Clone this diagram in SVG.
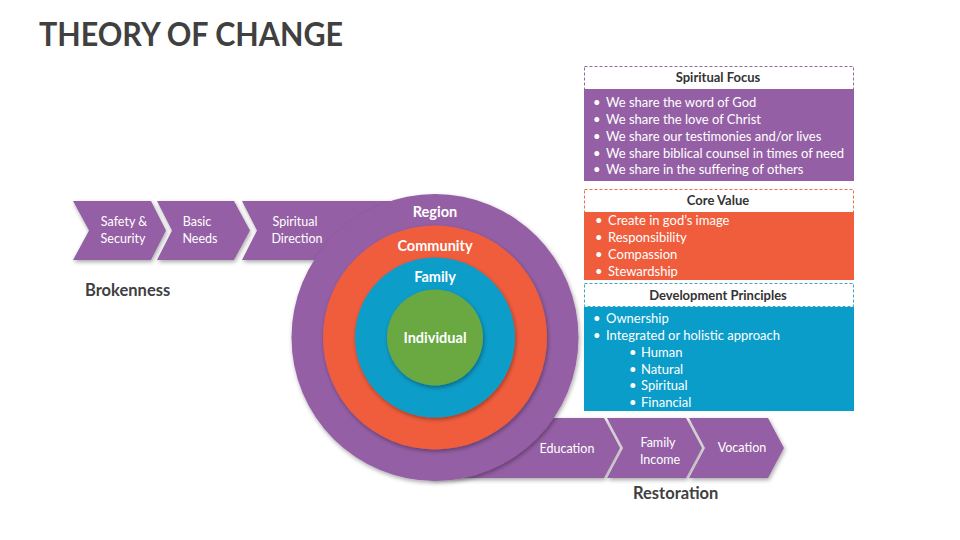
<svg xmlns="http://www.w3.org/2000/svg" width="960" height="540" viewBox="0 0 960 540">
<defs>
<filter id="sh" x="-20%" y="-20%" width="140%" height="140%">
<feDropShadow dx="1" dy="2" stdDeviation="2" flood-color="#000" flood-opacity="0.35"/>
</filter>
<style>
.t{font-family:Lato,"Open Sans","Liberation Sans",sans-serif;}
.title{font-size:32px;font-weight:bold;fill:#404040;}
.lbl{font-size:16.5px;font-weight:bold;fill:#404040;}
.chev{fill:#955FA5;filter:url(#sh);}
.ct{font-size:12.5px;fill:#fff;text-anchor:middle;}
.ring{font-size:14.5px;font-weight:bold;fill:#fff;text-anchor:middle;}
.hd{font-size:13px;font-weight:bold;fill:#333;text-anchor:middle;}
.it{font-size:13px;fill:#fff;}
.hbox{fill:#fff;stroke-width:1;stroke-dasharray:3 2;}
</style>
</defs>

<text class="t title" x="39" y="46" textLength="304" lengthAdjust="spacingAndGlyphs">THEORY OF CHANGE</text>

<g id="connectors"></g>

<g id="left-band">
<g id="spiritual-direction">
<polygon class="chev" points="242,201 450,201 450,260 242,260 257,230.5"/>
<text class="t ct" x="295" y="226">Spiritual</text>
<text class="t ct" x="297" y="243">Direction</text>
</g>
<g id="basic-needs">
<polygon class="chev" points="157,201 234,201 250,230.5 234,260 157,260 172,230.5"/>
<text class="t ct" x="197" y="226">Basic</text>
<text class="t ct" x="200" y="243">Needs</text>
</g>
<g id="safety-security">
<polygon class="chev" points="73,201 151,201 166,230.5 151,260 73,260 89,230.5"/>
<text class="t ct" x="124" y="226">Safety &amp;</text>
<text class="t ct" x="123" y="243">Security</text>
</g>
</g>

<g id="bottom-band">
<g id="education">
<polygon class="chev" points="430,418 604,418 620,448 604,478 430,478"/>
<text class="t ct" x="567" y="453">Education</text>
</g>
<g id="family-income">
<polygon class="chev" points="607,418 686,418 702,448 686,478 607,478 623,448"/>
<text class="t ct" x="658" y="447">Family</text>
<text class="t ct" x="660" y="464">Income</text>
</g>
<g id="vocation">
<polygon class="chev" points="689,418 768,418 784,448 768,478 689,478 705,448"/>
<text class="t ct" x="742" y="452">Vocation</text>
</g>
</g>

<g id="region">
<circle cx="435" cy="337.5" r="143.5" fill="#955FA5" filter="url(#sh)"/>
<text class="t ring" x="435" y="217">Region</text>
</g>
<g id="community">
<circle cx="435" cy="337.5" r="112" fill="#F05D3C" filter="url(#sh)"/>
<text class="t ring" x="435" y="251">Community</text>
</g>
<g id="family">
<circle cx="435" cy="337.5" r="80" fill="#0A9DC9" filter="url(#sh)"/>
<text class="t ring" x="435" y="282">Family</text>
</g>
<g id="individual">
<circle cx="435" cy="337.5" r="48" fill="#6BA843" filter="url(#sh)"/>
<text class="t ring" x="435" y="343">Individual</text>
</g>

<g id="brokenness"><text class="t lbl" x="85" y="296">Brokenness</text></g>
<g id="restoration"><text class="t lbl" x="633" y="499">Restoration</text></g>

<g id="spiritual-focus">
<rect class="hbox" x="584.5" y="66.5" width="269" height="23" stroke="#8E6A9A"/>
<text class="t hd" x="718" y="82">Spiritual Focus</text>
<rect x="584" y="89" width="270" height="92" fill="#955FA5"/>
<g class="t it">
<text x="593" y="107">•</text><text x="606" y="107">We share the word of God</text>
<text x="593" y="124">•</text><text x="606" y="124">We share the love of Christ</text>
<text x="593" y="141">•</text><text x="606" y="141">We share our testimonies and/or lives</text>
<text x="593" y="158">•</text><text x="606" y="158">We share biblical counsel in times of need</text>
<text x="593" y="174">•</text><text x="606" y="174">We share in the suffering of others</text>
</g>
</g>

<g id="core-value">
<rect class="hbox" x="584.5" y="189.5" width="269" height="23" stroke="#E8714F"/>
<text class="t hd" x="718" y="205">Core Value</text>
<rect x="584" y="212" width="270" height="68" fill="#F05D3C"/>
<g class="t it">
<text x="595" y="225">•</text><text x="608" y="225">Create in god’s image</text>
<text x="595" y="242">•</text><text x="608" y="242">Responsibility</text>
<text x="595" y="259">•</text><text x="608" y="259">Compassion</text>
<text x="595" y="276">•</text><text x="608" y="276">Stewardship</text>
</g>
</g>

<g id="development-principles">
<rect class="hbox" x="584.5" y="283.5" width="269" height="23" stroke="#3FA6C8"/>
<text class="t hd" x="718" y="300">Development Principles</text>
<rect x="584" y="307" width="270" height="104" fill="#0A9DC9"/>
<g class="t it">
<text x="593" y="323">•</text><text x="606" y="323">Ownership</text>
<text x="593" y="340">•</text><text x="606" y="340">Integrated or holistic approach</text>
<text x="629" y="357">•</text><text x="641" y="357">Human</text>
<text x="629" y="374">•</text><text x="641" y="374">Natural</text>
<text x="629" y="390">•</text><text x="641" y="390">Spiritual</text>
<text x="629" y="407">•</text><text x="641" y="407">Financial</text>
</g>
</g>
</svg>
